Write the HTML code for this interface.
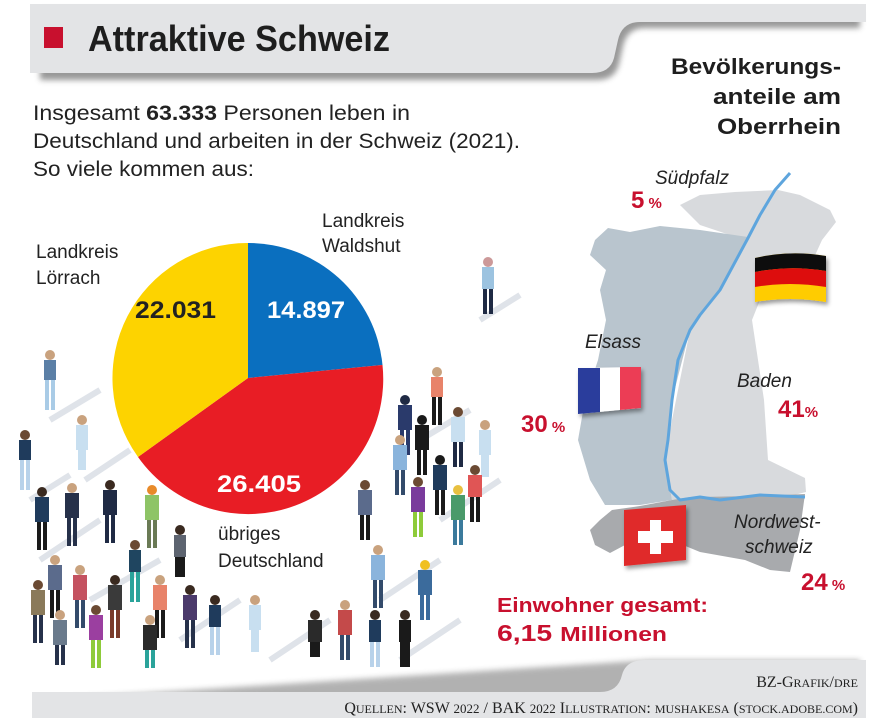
<!DOCTYPE html>
<html><head><meta charset="utf-8">
<style>
html,body{margin:0;padding:0;background:#fff;}
svg{display:block;}
.n{font-family:"Liberation Sans Narrow","Liberation Sans",sans-serif;}
.s{font-family:"Liberation Sans",sans-serif;}
.serif{font-family:"Liberation Serif",serif;}
</style></head><body>
<svg width="894" height="720" viewBox="0 0 894 720" xmlns="http://www.w3.org/2000/svg">
<defs>
<filter id="sh" x="-5%" y="-30%" width="110%" height="180%"><feGaussianBlur stdDeviation="3"/></filter>
<filter id="fs" x="-20%" y="-20%" width="150%" height="150%"><feDropShadow dx="2" dy="3" stdDeviation="2" flood-opacity="0.4"/></filter>
</defs>
<!-- header band -->
<path d="M40 10 L860 10 L860 28 L645 28 Q627 28 623 46 L619 64 Q615 80 597 80 L40 80 Z" fill="#444" opacity="0.55" filter="url(#sh)"/>
<path d="M30 4 L866 4 L866 22 L640 22 Q622 22 618 40 L614 58 Q610 73 592 73 L30 73 Z" fill="#e3e4e6"/>
<rect x="44" y="27" width="19" height="21" fill="#c8102e"/>
<text x="88" y="51" class="s" font-size="36" font-weight="bold" fill="#1e1e1e" textLength="302" lengthAdjust="spacingAndGlyphs">Attraktive Schweiz</text>
<!-- map heading -->
<g class="s" font-size="22" font-weight="bold" fill="#1e1e1e" text-anchor="end">
<text x="841" y="74" textLength="170" lengthAdjust="spacingAndGlyphs">Bevölkerungs-</text>
<text x="841" y="104" textLength="128" lengthAdjust="spacingAndGlyphs">anteile am</text>
<text x="841" y="134" textLength="124" lengthAdjust="spacingAndGlyphs">Oberrhein</text>
</g>
<!-- intro -->
<g class="s" font-size="21" fill="#222">
<text x="33" y="120" textLength="377" lengthAdjust="spacingAndGlyphs">Insgesamt <tspan font-weight="bold">63.333</tspan> Personen leben in</text>
<text x="33" y="148" textLength="487" lengthAdjust="spacingAndGlyphs">Deutschland und arbeiten in der Schweiz (2021).</text>
<text x="33" y="176" textLength="221" lengthAdjust="spacingAndGlyphs">So viele kommen aus:</text>
</g>
<!-- people shadows -->
<g stroke="#d8dde4" stroke-width="6" opacity="0.8">
<line x1="50" y1="420" x2="100" y2="390"/><line x1="85" y1="480" x2="130" y2="450"/><line x1="30" y1="500" x2="70" y2="475"/>
<line x1="40" y1="560" x2="100" y2="520"/><line x1="90" y1="600" x2="160" y2="560"/><line x1="180" y1="640" x2="240" y2="600"/>
<line x1="420" y1="440" x2="470" y2="410"/><line x1="440" y1="520" x2="500" y2="480"/><line x1="480" y1="320" x2="520" y2="295"/>
<line x1="380" y1="600" x2="440" y2="560"/><line x1="400" y1="660" x2="460" y2="620"/><line x1="270" y1="660" x2="330" y2="620"/>
</g>
<!-- pie -->
<path d="M248 378 L248 243 A135 135 0 0 1 382.5 365 Z" fill="#0a6fbf"/>
<path d="M248 378 L382.5 365 A135 135 0 0 1 138 457 Z" fill="#e81d25"/>
<path d="M248 378 L138 457 A135 135 0 0 1 248 243 Z" fill="#fdd300"/>
<g class="s" font-size="24" font-weight="bold">
<text x="135" y="318" fill="#222" textLength="81" lengthAdjust="spacingAndGlyphs">22.031</text>
<text x="267" y="318" fill="#fff" textLength="78" lengthAdjust="spacingAndGlyphs">14.897</text>
<text x="217" y="492" fill="#fff" textLength="84" lengthAdjust="spacingAndGlyphs">26.405</text>
</g>
<g class="s" font-size="19" fill="#222">
<text x="322" y="227">Landkreis</text><text x="322" y="252">Waldshut</text>
<text x="36" y="258">Landkreis</text><text x="36" y="284">Lörrach</text>
<text x="218" y="540">übriges</text><text x="218" y="567">Deutschland</text>
</g>
<!-- people (simplified) -->
<g>
<g transform="translate(488,262)"><circle r="5" fill="#c99"/><rect x="-6" y="5" width="12" height="22" fill="#9cc3e0"/><rect x="-5" y="27" width="4" height="25" fill="#1f2a44"/><rect x="1" y="27" width="4" height="25" fill="#1f2a44"/></g>
<g transform="translate(50,355)"><circle r="5" fill="#c9a27e"/><rect x="-6" y="5" width="12" height="20" fill="#5b7fa6"/><rect x="-5" y="25" width="4" height="30" fill="#a9cbe6"/><rect x="1" y="25" width="4" height="30" fill="#a9cbe6"/></g>
<g transform="translate(82,420)"><circle r="5" fill="#c9a27e"/><rect x="-6" y="5" width="12" height="25" fill="#c8dff0"/><rect x="-4" y="30" width="8" height="20" fill="#c8dff0"/></g>
<g transform="translate(25,435)"><circle r="5" fill="#6b4a33"/><rect x="-6" y="5" width="12" height="20" fill="#1f3b5c"/><rect x="-5" y="25" width="4" height="30" fill="#b8d2ea"/><rect x="1" y="25" width="4" height="30" fill="#b8d2ea"/></g>
<g transform="translate(42,492)"><circle r="5" fill="#3a2a20"/><rect x="-7" y="5" width="14" height="25" fill="#1f3b5c"/><rect x="-5" y="30" width="4" height="28" fill="#1a1a1a"/><rect x="1" y="30" width="4" height="28" fill="#1a1a1a"/></g>
<g transform="translate(72,488)"><circle r="5" fill="#c9a27e"/><rect x="-7" y="5" width="14" height="25" fill="#26314a"/><rect x="-5" y="30" width="4" height="28" fill="#26314a"/><rect x="1" y="30" width="4" height="28" fill="#26314a"/></g>
<g transform="translate(110,485)"><circle r="5" fill="#3a2a20"/><rect x="-7" y="5" width="14" height="25" fill="#1f2a44"/><rect x="-5" y="30" width="4" height="28" fill="#1f2a44"/><rect x="1" y="30" width="4" height="28" fill="#1f2a44"/></g>
<g transform="translate(152,490)"><circle r="5" fill="#e88a2a"/><rect x="-7" y="5" width="14" height="25" fill="#8ec466"/><rect x="-5" y="30" width="4" height="28" fill="#6a7a55"/><rect x="1" y="30" width="4" height="28" fill="#6a7a55"/></g>
<g transform="translate(180,530)"><circle r="5" fill="#3a2a20"/><rect x="-6" y="5" width="12" height="22" fill="#5d6470"/><rect x="-5" y="27" width="10" height="20" fill="#1a1a1a"/></g>
<g transform="translate(135,545)"><circle r="5" fill="#6b4a33"/><rect x="-6" y="5" width="12" height="22" fill="#1f4560"/><rect x="-5" y="27" width="4" height="30" fill="#2aa39a"/><rect x="1" y="27" width="4" height="30" fill="#2aa39a"/></g>
<g transform="translate(55,560)"><circle r="5" fill="#c9a27e"/><rect x="-7" y="5" width="14" height="25" fill="#5b6b8c"/><rect x="-5" y="30" width="4" height="28" fill="#1a1a1a"/><rect x="1" y="30" width="4" height="28" fill="#1a1a1a"/></g>
<g transform="translate(80,570)"><circle r="5" fill="#c9a27e"/><rect x="-7" y="5" width="14" height="25" fill="#c45260"/><rect x="-5" y="30" width="4" height="28" fill="#334b6b"/><rect x="1" y="30" width="4" height="28" fill="#334b6b"/></g>
<g transform="translate(38,585)"><circle r="5" fill="#6b4a33"/><rect x="-7" y="5" width="14" height="25" fill="#8a7a5a"/><rect x="-5" y="30" width="4" height="28" fill="#26314a"/><rect x="1" y="30" width="4" height="28" fill="#26314a"/></g>
<g transform="translate(115,580)"><circle r="5" fill="#3a2a20"/><rect x="-7" y="5" width="14" height="25" fill="#3a3a3a"/><rect x="-5" y="30" width="4" height="28" fill="#7a3b2a"/><rect x="1" y="30" width="4" height="28" fill="#7a3b2a"/></g>
<g transform="translate(160,580)"><circle r="5" fill="#c9a27e"/><rect x="-7" y="5" width="14" height="25" fill="#e8836a"/><rect x="-5" y="30" width="4" height="28" fill="#1a1a1a"/><rect x="1" y="30" width="4" height="28" fill="#1a1a1a"/></g>
<g transform="translate(190,590)"><circle r="5" fill="#3a2a20"/><rect x="-7" y="5" width="14" height="25" fill="#4b3a6b"/><rect x="-5" y="30" width="4" height="28" fill="#26314a"/><rect x="1" y="30" width="4" height="28" fill="#26314a"/></g>
<g transform="translate(215,600)"><circle r="5" fill="#3a2a20"/><rect x="-6" y="5" width="12" height="22" fill="#1f3b5c"/><rect x="-5" y="27" width="4" height="28" fill="#b8d2ea"/><rect x="1" y="27" width="4" height="28" fill="#b8d2ea"/></g>
<g transform="translate(255,600)"><circle r="5" fill="#c9a27e"/><rect x="-6" y="5" width="12" height="25" fill="#c8dff0"/><rect x="-4" y="30" width="8" height="22" fill="#c8dff0"/></g>
<g transform="translate(96,610)"><circle r="5" fill="#6b4a33"/><rect x="-7" y="5" width="14" height="25" fill="#9b3fa0"/><rect x="-5" y="30" width="4" height="28" fill="#8ecb3a"/><rect x="1" y="30" width="4" height="28" fill="#8ecb3a"/></g>
<g transform="translate(60,615)"><circle r="5" fill="#c9a27e"/><rect x="-7" y="5" width="14" height="25" fill="#6a7a8c"/><rect x="-5" y="30" width="4" height="20" fill="#26314a"/><rect x="1" y="30" width="4" height="20" fill="#26314a"/></g>
<g transform="translate(150,620)"><circle r="5" fill="#c9a27e"/><rect x="-7" y="5" width="14" height="25" fill="#2a2a2a"/><rect x="-5" y="30" width="4" height="18" fill="#2aa39a"/><rect x="1" y="30" width="4" height="18" fill="#2aa39a"/></g>
<g transform="translate(315,615)"><circle r="5" fill="#3a2a20"/><rect x="-7" y="5" width="14" height="22" fill="#2a2a2a"/><rect x="-5" y="27" width="10" height="15" fill="#1a1a1a"/></g>
<g transform="translate(345,605)"><circle r="5" fill="#c9a27e"/><rect x="-7" y="5" width="14" height="25" fill="#c44a4a"/><rect x="-5" y="30" width="4" height="25" fill="#334b6b"/><rect x="1" y="30" width="4" height="25" fill="#334b6b"/></g>
<g transform="translate(375,615)"><circle r="5" fill="#3a2a20"/><rect x="-6" y="5" width="12" height="22" fill="#1f3b5c"/><rect x="-5" y="27" width="4" height="25" fill="#b8d2ea"/><rect x="1" y="27" width="4" height="25" fill="#b8d2ea"/></g>
<g transform="translate(405,615)"><circle r="5" fill="#3a2a20"/><rect x="-6" y="5" width="12" height="22" fill="#1a1a1a"/><rect x="-5" y="27" width="10" height="25" fill="#1a1a1a"/></g>
<g transform="translate(365,485)"><circle r="5" fill="#6b4a33"/><rect x="-7" y="5" width="14" height="25" fill="#5b6b8c"/><rect x="-5" y="30" width="4" height="25" fill="#1a1a1a"/><rect x="1" y="30" width="4" height="25" fill="#1a1a1a"/></g>
<g transform="translate(378,550)"><circle r="5" fill="#c9a27e"/><rect x="-7" y="5" width="14" height="25" fill="#8ab4dc"/><rect x="-5" y="30" width="4" height="28" fill="#334b6b"/><rect x="1" y="30" width="4" height="28" fill="#334b6b"/></g>
<g transform="translate(425,565)"><circle r="5" fill="#f0c020"/><rect x="-7" y="5" width="14" height="25" fill="#3b6b9c"/><rect x="-5" y="30" width="4" height="25" fill="#3b6b9c"/><rect x="1" y="30" width="4" height="25" fill="#3b6b9c"/></g>
<g transform="translate(437,372)"><circle r="5" fill="#c9a27e"/><rect x="-6" y="5" width="12" height="20" fill="#e8836a"/><rect x="-5" y="25" width="4" height="28" fill="#1a1a1a"/><rect x="1" y="25" width="4" height="28" fill="#1a1a1a"/></g>
<g transform="translate(405,400)"><circle r="5" fill="#1f2a44"/><rect x="-7" y="5" width="14" height="25" fill="#2a3a6b"/><rect x="-5" y="30" width="4" height="25" fill="#2a3a6b"/><rect x="1" y="30" width="4" height="25" fill="#2a3a6b"/></g>
<g transform="translate(422,420)"><circle r="5" fill="#1a1a1a"/><rect x="-7" y="5" width="14" height="25" fill="#1a1a1a"/><rect x="-5" y="30" width="4" height="25" fill="#1a1a1a"/><rect x="1" y="30" width="4" height="25" fill="#1a1a1a"/></g>
<g transform="translate(458,412)"><circle r="5" fill="#6b4a33"/><rect x="-7" y="5" width="14" height="25" fill="#c8dff0"/><rect x="-5" y="30" width="4" height="25" fill="#1f2a44"/><rect x="1" y="30" width="4" height="25" fill="#1f2a44"/></g>
<g transform="translate(485,425)"><circle r="5" fill="#c9a27e"/><rect x="-6" y="5" width="12" height="25" fill="#c8dff0"/><rect x="-4" y="30" width="8" height="22" fill="#c8dff0"/></g>
<g transform="translate(400,440)"><circle r="5" fill="#c9a27e"/><rect x="-7" y="5" width="14" height="25" fill="#8ab4dc"/><rect x="-5" y="30" width="4" height="25" fill="#334b6b"/><rect x="1" y="30" width="4" height="25" fill="#334b6b"/></g>
<g transform="translate(440,460)"><circle r="5" fill="#1a1a1a"/><rect x="-7" y="5" width="14" height="25" fill="#1f3b5c"/><rect x="-5" y="30" width="4" height="25" fill="#1a1a1a"/><rect x="1" y="30" width="4" height="25" fill="#1a1a1a"/></g>
<g transform="translate(418,482)"><circle r="5" fill="#6b4a33"/><rect x="-7" y="5" width="14" height="25" fill="#7a3b9c"/><rect x="-5" y="30" width="4" height="25" fill="#8ecb3a"/><rect x="1" y="30" width="4" height="25" fill="#8ecb3a"/></g>
<g transform="translate(458,490)"><circle r="5" fill="#e8c040"/><rect x="-7" y="5" width="14" height="25" fill="#4a9a6a"/><rect x="-5" y="30" width="4" height="25" fill="#3b7a9c"/><rect x="1" y="30" width="4" height="25" fill="#3b7a9c"/></g>
<g transform="translate(475,470)"><circle r="5" fill="#6b4a33"/><rect x="-7" y="5" width="14" height="22" fill="#e05555"/><rect x="-5" y="27" width="4" height="25" fill="#1a1a1a"/><rect x="1" y="27" width="4" height="25" fill="#1a1a1a"/></g>
</g>
<!-- map -->
<g>
<path d="M680 205 L700 195 L735 192 L778 190 L800 195 L830 210 L836 222 L822 240 L812 262 L780 258 L760 300 L752 320 L758 360 L764 400 L768 460 L805 478 L806 492 L790 496 L690 497 L672 500 L665 460 L672 420 L690 330 L720 290 L748 238 L730 235 L700 225 Z" fill="#d8dadd"/>
<path d="M595 240 L608 228 L630 232 L660 226 L700 230 L748 237 L720 290 L690 330 L672 400 L665 460 L672 500 L640 505 L605 505 L590 480 L578 440 L585 400 L598 360 L606 320 L600 290 L606 270 L590 255 Z" fill="#b9c5ce"/>
<path d="M672 500 L690 497 L760 496 L805 494 L800 530 L790 572 L770 570 L745 560 L700 552 L683 545 L660 560 L640 548 L625 545 L610 553 L595 545 L590 530 L600 520 L612 510 L640 506 Z" fill="#a8aaad"/>
<path d="M790 173 L775 190 L760 215 L748 238 L720 290 L700 315 L690 330 L678 360 L672 400 L670 420 L668 440 L665 460 L670 490 L680 500 L700 497 L720 500 L760 495 L805 497" fill="none" stroke="#5ea5dd" stroke-width="3" stroke-linejoin="round"/>
</g>
<!-- flags -->
<g filter="url(#fs)">
<path d="M755 258 Q790 250 826 256 L826 302 Q790 296 755 302 Z" fill="#ffcc00"/>
<path d="M755 258 Q790 250 826 256 L826 271 Q790 265 755 272 Z" fill="#111"/>
<path d="M755 272 Q790 265 826 271 L826 287 Q790 281 755 287 Z" fill="#dd1111"/>
<path d="M578 368 L641 367 L641 408 L578 414 Z" fill="#fff"/>
<path d="M578 368 L600 368 L600 412 L578 414 Z" fill="#2a3c9c"/>
<path d="M620 367 L641 367 L641 408 L620 410 Z" fill="#ec3c55"/>
<path d="M624 510 L686 505 L686 560 L624 566 Z" fill="#e02a2a"/>
<rect x="650" y="520" width="11" height="34" fill="#fff"/>
<rect x="638" y="531" width="35" height="12" fill="#fff"/>
</g>
<!-- map labels -->
<g class="s" font-style="italic" font-size="19" fill="#222">
<text x="655" y="184">Südpfalz</text>
<text x="585" y="348">Elsass</text>
<text x="737" y="387">Baden</text>
<text x="734" y="528">Nordwest-</text>
<text x="745" y="553">schweiz</text>
</g>
<g class="s" font-weight="bold" fill="#c8102e">
<text x="631" y="208" font-size="24">5<tspan font-size="15"> %</tspan></text>
<text x="521" y="432" font-size="24">30<tspan font-size="15"> %</tspan></text>
<text x="778" y="417" font-size="24">41<tspan font-size="15">%</tspan></text>
<text x="801" y="590" font-size="24">24<tspan font-size="15"> %</tspan></text>
<text x="497" y="612" font-size="20" textLength="211" lengthAdjust="spacingAndGlyphs">Einwohner gesamt:</text>
<text x="497" y="641" font-size="23" textLength="170" lengthAdjust="spacingAndGlyphs">6,15 <tspan font-size="20">Millionen</tspan></text>
</g>
<!-- footer -->
<path d="M40 700 L860 700 L860 660 L650 660 Z" fill="#555" opacity="0.45" filter="url(#sh)"/>
<path d="M32 692 L866 692 L866 718 L32 718 Z" fill="#e3e4e6"/>
<path d="M600 692 Q618 692 622 675 Q626 660 645 660 L866 660 L866 692 Z" fill="#e3e4e6"/>
<g class="serif" fill="#222" text-anchor="end">
<text x="858" y="687" font-size="16">BZ-G<tspan font-size="12">RAFIK</tspan>/<tspan font-size="12">DRE</tspan></text>
<text x="858" y="713" font-size="16">Q<tspan font-size="12">UELLEN</tspan>: WSW <tspan font-size="13">2022</tspan> / BAK <tspan font-size="13">2022</tspan>   I<tspan font-size="12">LLUSTRATION</tspan>: <tspan font-size="12">MUSHAKESA</tspan> (<tspan font-size="12">STOCK.ADOBE.COM</tspan>)</text>
</g>
</svg>
</body></html>
